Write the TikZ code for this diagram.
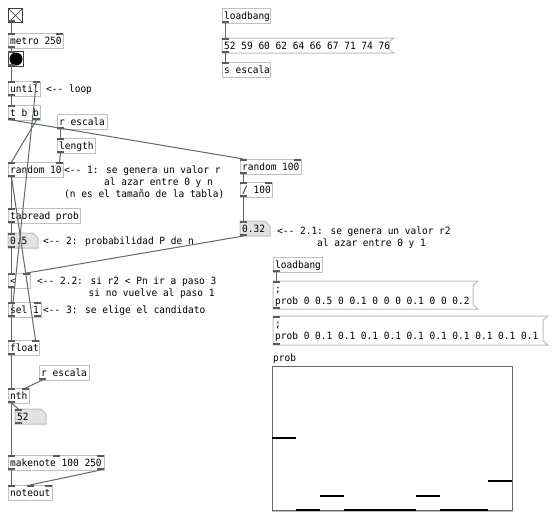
\documentclass[tikz,border=0pt]{standalone}
\usepackage{fontspec}
\newfontfamily\pdfont{DejaVu Sans Mono}[FakeStretch=0.95]
\usetikzlibrary{calc}
\definecolor{pdcord}{RGB}{96,108,96}
\definecolor{pdportcol}{RGB}{84,96,84}
\definecolor{pdline}{RGB}{192,192,192}
\definecolor{pdnumfill}{RGB}{226,226,226}

% inlets and outlets of one box: name, x, y, width, height, #in, #out
\newcommand{\pdports}[7]{%
  \ifnum#6>0
    \foreach \k in {1,...,#6}{%
      \pgfmathsetmacro{\px}{#2+(\k-1)*(#4-7)/max(#6-1,1)}
      \fill[pdport] (\px,#3) rectangle ++(7,2);
      \coordinate (#1-i\k) at (\px+3.5,#3);
    }%
  \fi
  \ifnum#7>0
    \foreach \k in {1,...,#7}{%
      \pgfmathsetmacro{\px}{#2+(\k-1)*(#4-7)/max(#7-1,1)}
      \fill[pdport] (\px,#3+#5-2) rectangle ++(7,2);
      \coordinate (#1-o\k) at (\px+3.5,#3+#5);
    }%
  \fi}
% object box: name, x, y, width, height, text, #in, #out
\newcommand{\pdobj}[8]{%
  \node[pdbox, minimum width=#4pt, minimum height=#5pt] (#1) at (#2,#3) {};
  \node[pdtext] at (#2+2,#3+11.5) {#6};
  \pdports{#1}{#2}{#3}{#4}{#5}{#7}{#8}}
% message box: name, x, y, width, height, text
\newcommand{\pdmsg}[6]{%
  \node[minimum width=#4pt, minimum height=#5pt, inner sep=0pt, anchor=north west] (#1) at (#2,#3) {};
  \draw[draw=pdline, line width=1pt] (#2,#3) -- (#2+#4+5,#3) -- (#2+#4,#3+4)
    -- (#2+#4,#3+#5-4) -- (#2+#4+5,#3+#5) -- (#2,#3+#5) -- cycle;
  \node[pdtext] at (#2+2,#3+11.5) {#6};
  \pdports{#1}{#2}{#3}{#4}{#5}{1}{1}}
% number box: name, x, y, width, text
\newcommand{\pdnum}[5]{%
  \node[minimum width=#4pt, minimum height=15pt, inner sep=0pt, anchor=north west] (#1) at (#2,#3) {};
  \filldraw[draw=pdline, fill=pdnumfill, line width=1pt] (#2,#3) -- (#2+#4-5,#3) -- (#2+#4,#3+5)
    -- (#2+#4,#3+15) -- (#2,#3+15) -- cycle;
  \node[pdtext] at (#2+2,#3+11.5) {#5};
  \pdports{#1}{#2}{#3}{#4}{15}{1}{1}}

\begin{document}
\begin{tikzpicture}[x=1pt,y=-1pt,
    pdbox/.style={draw=pdline, line width=1pt, inner sep=0pt, anchor=north west},
    pdtext/.style={anchor=base west, inner sep=0pt, font=\pdfont\fontsize{10}{12}\selectfont},
    pdport/.style={fill=pdportcol},
    cord/.style={draw=pdcord, line width=1pt},
    comment/.style={anchor=base west, inner sep=0pt, font=\pdfont\fontsize{10}{12}\selectfont}]
  \useasboundingbox[fill=white] (0,0) rectangle (560,520);
  % toggle, metro and bang
  \node[pdbox, draw=black!75, minimum size=14pt] (tog) at (8,8) {};
  \draw[black!80] (tog.north west) -- (tog.south east) (tog.north east) -- (tog.south west);
  \pdports{tog}{8}{8}{14}{14}{0}{1}
  \pdobj{metro}{8}{33}{55}{15}{metro 250}{2}{1}
  \node[pdbox, draw=black!75, minimum size=15pt] (bng) at (8,51) {};
  \fill (bng.center) circle (6.5pt);
  \pdports{bng}{8}{51}{15}{15}{1}{1}
  % loop
  \pdobj{until}{8}{81}{32}{15}{until}{2}{1}
  \pdobj{tbb}{8}{105}{32}{15}{t b b}{1}{2}
  \pdobj{resc}{57}{114}{50}{15}{r escala}{0}{1}
  \pdobj{len}{57}{138}{38}{15}{length}{1}{1}
  \pdobj{rndn}{8}{162}{55}{15}{random 10}{2}{1}
  \pdobj{tabrd}{8}{208}{72}{15}{tabread prob}{1}{1}
  \pdnum{nump}{8}{233}{30}{0.5}
  \pdobj{lt}{8}{273}{22}{15}{<}{2}{1}
  \pdobj{sel}{8}{302}{33}{15}{sel 1}{2}{2}
  \pdobj{flt}{8}{340}{31}{15}{float}{2}{1}
  \pdobj{resctwo}{39}{365}{50}{15}{r escala}{0}{1}
  \pdobj{nth}{8}{388}{21}{15}{nth}{2}{1}
  \pdnum{numnote}{15}{409}{31}{52}
  \pdobj{mknote}{8}{455}{96}{15}{makenote 100 250}{3}{2}
  \pdobj{nout}{8}{485}{44}{15}{noteout}{3}{0}
  % second random value
  \pdobj{rndr}{240}{159}{61}{15}{random 100}{2}{1}
  \pdobj{divr}{240}{182}{32}{15}{/ 100}{2}{1}
  \pdnum{numr}{240}{221}{30}{0.32}
  % scale
  \pdobj{lbscale}{222}{8}{48}{15}{loadbang}{0}{1}
  \pdmsg{msgscale}{222}{38}{167}{15}{52 59 60 62 64 66 67 71 74 76}
  \pdobj{sesc}{222}{62}{48}{15}{s escala}{1}{0}
  % table
  \pdobj{lbprob}{273}{257}{49}{15}{loadbang}{0}{1}
  \pdmsg{msgprobone}{273}{281}{200}{28}{\vtop{\hbox{;}\hbox{prob 0 0.5 0 0.1 0 0 0 0.1 0 0 0.2}}}
  \pdmsg{msgprobtwo}{273}{316}{270}{29}{\vtop{\hbox{;}\hbox{prob 0 0.1 0.1 0.1 0.1 0.1 0.1 0.1 0.1 0.1 0.1}}}
  \node[pdtext] (probname) at (273,361) {prob};
  \node[draw=black!60, line width=1pt, minimum width=240pt, minimum height=144pt,
    inner sep=0pt, anchor=north west] (probtab) at (272,366) {};
  \draw[black!25, line width=1pt] (probtab.south west) -- (probtab.south east);
  \foreach \v [count=\i from 0] in {0.5,0,0.1,0,0,0,0.1,0,0,0.2}
    \draw[line width=2pt] (272+24*\i,510-144*\v) -- ++(24,0);
  % comments
  \node[comment] (cmloop) at (46,92.5) {<-- loop};
  \node[comment] (cmone) at (64,173) {\vtop{\hbox{<-- 1: se genera un valor r}%
    \hbox{\hphantom{0000000}al azar entre 0 y n}\hbox{(n es el tamaño de la tabla)}}};
  \node[comment] (cmtwo) at (43,244.5) {<-- 2: probabilidad P de n};
  \node[comment] (cmtwoone) at (277,234) {\vtop{\hbox{<-- 2.1: se genera un valor r2}%
    \hbox{\hphantom{0000000}al azar entre 0 y 1}}};
  \node[comment] (cmtwotwo) at (37,284) {\vtop{\hbox{<-- 2.2: si r2 < Pn ir a paso 3}%
    \hbox{\hphantom{000000000}si no vuelve al paso 1}}};
  \node[comment] (cmthree) at (43,313) {<-- 3: se elige el candidato};
  % cords
  \draw[cord] (tog-o1) -- (metro-i1);
  \draw[cord] (metro-o1) -- (bng-i1);
  \draw[cord] (bng-o1) -- (until-i1);
  \draw[cord] (until-o1) -- (tbb-i1);
  \draw[cord] (tbb-o1) -- (rndr-i1);
  \draw[cord] (tbb-o2) -- (rndn-i1);
  \draw[cord] (resc-o1) -- (len-i1);
  \draw[cord] (len-o1) -- (rndn-i2);
  \draw[cord] (rndn-o1) -- (tabrd-i1);
  \draw[cord] (rndn-o1) -- (flt-i2);
  \draw[cord] (tabrd-o1) -- (nump-i1);
  \draw[cord] (nump-o1) -- (lt-i1);
  \draw[cord] (rndr-o1) -- (divr-i1);
  \draw[cord] (divr-o1) -- (numr-i1);
  \draw[cord] (numr-o1) -- (lt-i2);
  \draw[cord] (lt-o1) -- (sel-i1);
  \draw[cord] (sel-o1) -- (flt-i1);
  \draw[cord] (sel-o1) -- (until-i2);
  \draw[cord] (flt-o1) -- (nth-i1);
  \draw[cord] (resctwo-o1) -- (nth-i2);
  \draw[cord] (nth-o1) -- (numnote-i1);
  \draw[cord] (nth-o1) -- (mknote-i1);
  \draw[cord] (mknote-o1) -- (nout-i1);
  \draw[cord] (mknote-o2) -- (nout-i2);
  \draw[cord] (lbscale-o1) -- (msgscale-i1);
  \draw[cord] (msgscale-o1) -- (sesc-i1);
  \draw[cord] (lbprob-o1) -- (msgprobone-i1);
\end{tikzpicture}
\end{document}
